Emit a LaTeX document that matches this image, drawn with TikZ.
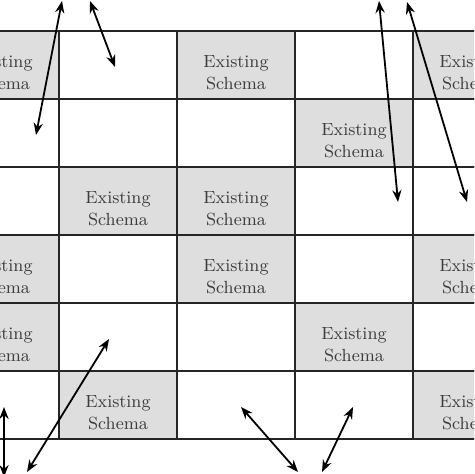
\documentclass[tikz,border=0pt]{standalone}
\usepackage{tikz}
\usetikzlibrary{positioning}
\usetikzlibrary{calc}
\usetikzlibrary{arrows.meta}
\definecolor{schemagray}{HTML}{DEDEDF}
\definecolor{schematext}{HTML}{3C3C3C}
\tikzset{
    cell/.style={rectangle, draw=black!85, line width=0.9pt, minimum width=59pt, minimum height=34pt, inner sep=0pt, outer sep=0pt},
    schema/.style={cell, fill=schemagray, align=center, text=schematext, font=\fontsize{8.8}{11}\selectfont},
    blank/.style={cell, fill=white},
    link/.style={line width=0.9pt, {Stealth[length=6pt,width=4.6pt]}-{Stealth[length=6pt,width=4.6pt]}}
}
\begin{document}
\begin{tikzpicture}[x=0.5pt, y=-0.5pt]

        \useasboundingbox (0,0) rectangle (474,474);
        \clip (0,0) rectangle (474,474);

        % Defining empty cells
        \foreach \r/\c in {0/1, 0/3, 1/0, 1/1, 1/2, 1/4, 2/0, 2/3, 2/4,
                           3/1, 3/3, 4/1, 4/2, 4/4, 5/0, 5/2, 5/3}
            \node[blank] (b\r\c) at ({118*\c}, {65+68*\r}) {};

        % Defining schema cells
        \foreach \r/\c in {0/0, 0/2, 0/4, 1/3, 2/1, 2/2, 3/0, 3/2, 3/4,
                           4/0, 4/3, 5/1, 5/4}
            \node[schema] (s\r\c) at ({118*\c}, {65+68*\r}) {\rule{0pt}{14pt}Existing\\Schema};

        % Defining arrow ends
        \foreach \name/\x/\y in {p1/62/1, q1/36/135, p2/90/1, q2/115/67,
                                 p3/379/1, q3/398/202, p4/407/2, q4/467/202,
                                 p5/4/407, q5/4/477, p6/109/339, q6/27/472,
                                 p7/241/407, q7/298/472, p8/353/407, q8/322/472}
            \coordinate (\name) at (\x,\y);

        % Defining arrows
        \foreach \i in {1,...,8}
            \draw[link] (p\i) -- (q\i);

    \end{tikzpicture}
\end{document}
